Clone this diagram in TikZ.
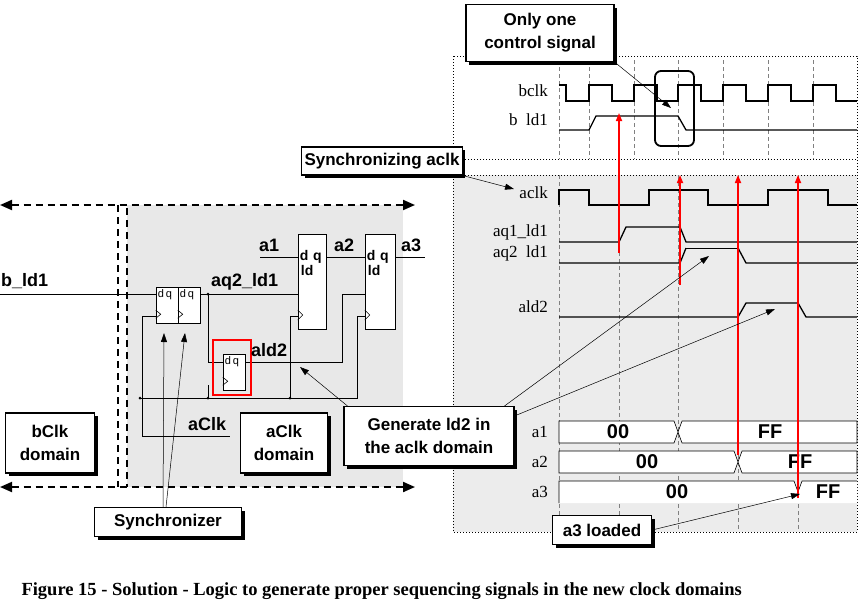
\documentclass[tikz,border=0pt]{standalone}
\usepackage{fontspec}
\setmainfont{Liberation Serif}
\newfontfamily\sans{Liberation Sans}
\usetikzlibrary{arrows.meta,shadows}
\begin{document}
\begin{tikzpicture}[x=1pt,y=-1pt,
 call/.style={draw,fill=white,line width=1.2pt,align=center,font=\sans\bfseries\fontsize{17}{23}\selectfont,inner sep=3pt,drop shadow={shadow xshift=3pt,shadow yshift=-3pt,fill=black,opacity=1}},
 wl/.style={anchor=east,font=\fontsize{17}{18}\selectfont,inner sep=1pt},
 lbl/.style={font=\sans\bfseries\fontsize{18}{19}\selectfont,inner sep=1pt},
 val/.style={font=\sans\bfseries\fontsize{20}{21}\selectfont,inner sep=1pt},
 wave/.style={line width=1.3pt},
 grid/.style={gray,line width=1pt,dash pattern=on 4pt off 3pt},
 redarr/.style={draw=red,line width=1.6pt,-{Triangle[width=6pt,length=8pt]}},
 ptr/.style={-{Triangle[width=6pt,length=9pt]},line width=0.5pt},
 ff/.style={draw,fill=white,line width=0.5pt},
 w/.style={line width=0.6pt},
 bdash/.style={line width=2pt,dash pattern=on 7pt off 5pt},
 bus/.style={draw,fill=white,line width=0.6pt}]
\useasboundingbox (0,0) rectangle (866,606);
% ================= timing =================
\fill[gray!15] (453,175) rectangle (857,532);
\draw[dotted,line width=1pt] (453,56) rectangle (857,532);
\draw[dotted,line width=1pt] (453,159) -- (857,159);
\draw[dotted,line width=1pt] (453,175) -- (857,175);
\foreach \x in {559,589,634,678,723,768,813} \draw[grid] (\x,60) -- (\x,159);
\foreach \x in {559,619,678,738,798} \draw[grid] (\x,175) -- (\x,530);
% bus values
\draw[bus] (559,421) -- (674,421) -- (678,432) -- (682,421) -- (857,421) -- (857,443) -- (682,443) -- (678,432) -- (674,443) -- (559,443) -- cycle;
\draw[bus] (559,451) -- (734,451) -- (738,462) -- (742,451) -- (857,451) -- (857,473) -- (742,473) -- (738,462) -- (734,473) -- (559,473) -- cycle;
\fill[white] (559,481) -- (794,481) -- (798,492) -- (802,481) -- (857,481) -- (857,503) -- (559,503) -- cycle;
\draw[w] (559,503) -- (559,481) -- (794,481) -- (798,492) -- (802,481) -- (857,481);
\node[val] (v1a) at (618,432) {00};
\node[val] (v1b) at (770,432) {FF};
\node[val] (v2a) at (647,462) {00};
\node[val] (v2b) at (800,462) {FF};
\node[val] (v3a) at (677,492) {00};
\node[val] (v3b) at (828,492) {FF};
% waveforms
\draw[wave] (559,85) -- (566,85) -- (566,101) -- (589,101)
 \foreach \s in {589,634,678,723,768,813} {-- (\s,101) -- (\s,85) -- (\s+23,85) -- (\s+23,101)} -- (857,101);
\draw[wave] (559,130) -- (589,130) -- (596,116) -- (678,116) -- (686,130) -- (857,130);
\draw[wave] (559,205) -- (559,190) -- (589,190) -- (589,205) -- (649,205) -- (649,190) -- (708,190) -- (708,205) -- (768,205) -- (768,190) -- (828,190) -- (828,205) -- (857,205);
\draw[wave] (559,242) -- (619,242) -- (626,227) -- (680,227) -- (686,242) -- (857,242);
\draw[wave] (559,263) -- (680,263) -- (686,248);
\draw[w] (686,248) -- (738,248);
\draw[wave] (738,248) -- (746,263) -- (857,263);
\draw[wave] (559,317) -- (738,317) -- (746,303) -- (798,303) -- (806,317) -- (857,317);
\draw[line width=1.8pt,rounded corners=6pt] (655,71) rectangle (694,146);
\node[wl] (lbclk) at (549,91) {bclk};
\node[wl] (lbld) at (549,120) {b\enspace ld1};
\node[wl] (laclk) at (549,193) {aclk};
\node[wl] (laq1) at (549,232) {aq1\_ld1};
\node[wl] (laq2) at (549,253) {aq2\enspace ld1};
\node[wl] (lald) at (549,307) {ald2};
\node[wl] (la1) at (549,432) {a1};
\node[wl] (la2) at (549,462) {a2};
\node[wl] (la3) at (549,492) {a3};
% red arrows
\coordinate (r1b) at (619,253); \coordinate (r1t) at (619,113);
\coordinate (r2b) at (680,285); \coordinate (r2t) at (680,175);
\coordinate (r3b) at (738,455); \coordinate (r3t) at (738,175);
\coordinate (r4b) at (798,498); \coordinate (r4t) at (798,175);
\draw[redarr] (r1b) -- (r1t);
\draw[redarr] (r2b) -- (r2t);
\draw[redarr] (r3b) -- (r3t);
\draw[redarr] (r4b) -- (r4t);
% callouts
\node[call,minimum width=148pt,minimum height=57pt] (only) at (540,33) {Only one\\control signal};
\coordinate (onlyt) at (671,108);
\draw[ptr] (only.south east) -- (onlyt);
\node[call,minimum width=136pt,minimum height=28pt] (sync) at (382,161) {Synchronizing aclk};
\coordinate (synct) at (514,189);
\draw[ptr] (sync.south east) -- (synct);
% ================= left diagram =================
\fill[gray!18] (127,205) rectangle (403,487);
\draw[bdash,{Triangle[width=10pt,length=12pt]}-{Triangle[width=10pt,length=12pt]}] (0,205) -- (415,205);
\draw[bdash,{Triangle[width=10pt,length=12pt]}-{Triangle[width=10pt,length=12pt]}] (0,487) -- (415,487);
\draw[bdash] (118,205) -- (118,487);
\draw[bdash] (127,208) -- (127,487);
% wires
\draw[w] (0,294) -- (156,294);
\draw[w] (200,294) -- (298,294);
\draw[w] (208,294) -- (208,362) -- (223,362);
\draw[w] (245,362) -- (342,362) -- (342,294) -- (365,294);
\draw[w] (260,257) -- (298,257);
\draw[w] (326,257) -- (365,257);
\draw[w] (395,257) -- (425,257);
\draw[w] (140,398) -- (357,398) -- (357,316) -- (365,316);
\draw[w] (290,398) -- (290,316) -- (298,316);
\draw[w] (208,398) -- (208,385);
\draw[w] (142,316) -- (156,316);
\draw[w] (142,316) -- (142,436) -- (230,436);
\foreach \p in {(208,294),(140,398),(208,398),(290,398)} \fill \p circle (1.5pt);
% flip-flops
\node[ff,minimum width=22pt,minimum height=36pt] (s1) at (167,305) {};
\node[ff,minimum width=22pt,minimum height=36pt] (s2) at (189,305) {};
\node[ff,minimum width=28pt,minimum height=95pt] (f1) at (312,282) {};
\node[ff,minimum width=30pt,minimum height=95pt] (f2) at (380,282) {};
\node[ff,minimum width=22pt,minimum height=36pt] (f3) at (234,372) {};
\draw[draw=red,line width=1.2pt] (213,340) rectangle (251,395);
\foreach \n in {s1,s2,f3}{
 \node[font=\sans\fontsize{11}{11}\selectfont,inner sep=0pt,anchor=north west] at ([shift={(2pt,-3pt)}]\n.north west) {d\,q};
 \draw[w] ([yshift=5pt]\n.south west) -- ++(5,-4) -- ++(-5,-4);}
\foreach \n in {f1,f2}{
 \node[font=\sans\bfseries\fontsize{14}{14}\selectfont,inner sep=0pt,anchor=north west] at ([shift={(2pt,-16pt)}]\n.north west) {d\,\,q};
 \node[font=\sans\bfseries\fontsize{14}{14}\selectfont,inner sep=0pt,anchor=west] at ([shift={(3pt,12pt)}]\n.west) {ld};
 \draw[w] (\n.west |- 0,320) -- ++(5,-5) -- ++(-5,-5);}
\node[lbl,anchor=south west] (tbld) at (0,290) {b\_ld1};
\node[lbl,anchor=south west] (taq2) at (210,291) {aq2\_ld1};
\node[lbl,anchor=south west] (tald) at (250,358) {ald2};
\node[lbl,anchor=south west] (ta1) at (258,253) {a1};
\node[lbl,anchor=south west] (ta2) at (333,253) {a2};
\node[lbl,anchor=south west] (ta3) at (400,253) {a3};
\node[lbl,anchor=south west] (taclk) at (187,432) {aClk};
\node[call,minimum width=89pt,minimum height=60pt] (bdom) at (50,443) {bClk\\domain};
\node[call,minimum width=87pt,minimum height=60pt] (adom) at (284,443) {aClk\\domain};
\node[call,minimum width=170pt,minimum height=59pt] (gen) at (429,436) {Generate ld2 in\\the aclk domain};
\coordinate (g1) at (300,367); \coordinate (g2) at (709,256); \coordinate (g3) at (775,309);
\draw[ptr] ([xshift=4pt]gen.north west) -- (g1);
\draw[ptr] ([xshift=-10pt]gen.north east) -- (g2);
\draw[ptr] ([yshift=-10pt]gen.north east) -- (g3);
\node[call,minimum width=147pt,minimum height=29pt] (syn) at (168,522) {Synchronizer};
\coordinate (sy1) at (164,333); \coordinate (sy2) at (185,333);
\draw[ptr] ([xshift=-5pt]syn.north) -- (sy1);
\draw[ptr] ([xshift=-2pt]syn.north) -- (sy2);
\node[call,minimum width=99pt,minimum height=29pt] (a3l) at (602,530) {a3 loaded};
\coordinate (a3t) at (800,494);
\draw[ptr] (a3l.east) -- (a3t);
\node[anchor=west,font=\bfseries\fontsize{18.5}{20}\selectfont] (cap) at (18,591) {Figure 15 - Solution - Logic to generate proper sequencing signals in the new clock domains};
\end{tikzpicture}
\end{document}
